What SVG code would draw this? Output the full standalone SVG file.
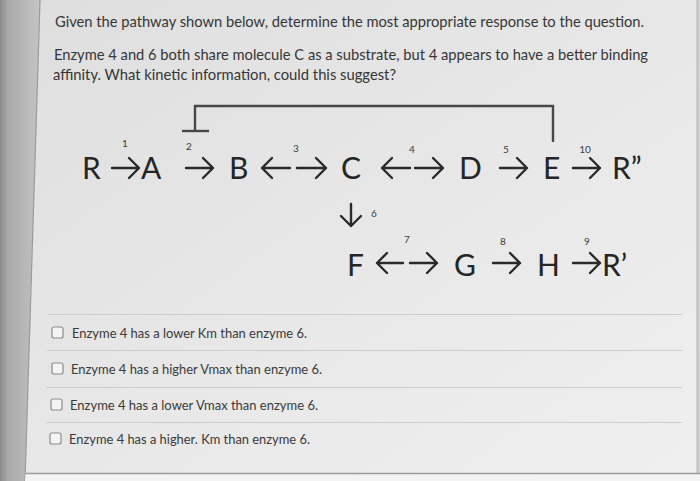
<svg xmlns="http://www.w3.org/2000/svg" width="700" height="481" viewBox="0 0 700 481">
  <defs>
    <linearGradient id="page" x1="0" y1="0" x2="1" y2="1">
      <stop offset="0" stop-color="#dedede"/>
      <stop offset="0.6" stop-color="#e9e9e9"/>
      <stop offset="1" stop-color="#efefef"/>
    </linearGradient>
    <linearGradient id="edge" x1="0" y1="0" x2="1" y2="0">
      <stop offset="0" stop-color="#8a8a8a"/>
      <stop offset="0.2" stop-color="#a9a9a9"/>
      <stop offset="1" stop-color="#c4c4c4"/>
    </linearGradient>
  </defs>
  <style>
    .q { font-family: Lato, "Liberation Sans", sans-serif; font-size: 15px; fill: #363636; }
    .opt { font-family: Lato, "Liberation Sans", sans-serif; font-size: 14px; fill: #3a3a3a; }
    .big { font-family: Lato, "Liberation Sans", sans-serif; font-size: 30px; fill: #252525; }
    .num { font-family: Lato, "Liberation Sans", sans-serif; font-size: 10px; fill: #3a3a3a; }
    .arr { fill: none; stroke: #2a2a2a; stroke-width: 2.4; stroke-linecap: round; stroke-linejoin: round; }
    .br { fill: none; stroke: #474747; stroke-width: 2.4; }
    .sep { stroke: #cdcdcd; stroke-width: 1; }
    .cb { fill: #f4f4f4; stroke: #8c8c8c; stroke-width: 1.2; }
  </style>

  <!-- background -->
  <rect x="0" y="0" width="700" height="481" fill="url(#page)"/>
  <polygon points="0,0 40,0 25,481 0,481" fill="url(#edge)"/>
  <line x1="40" y1="0" x2="25" y2="481" stroke="#9a9a9a" stroke-width="1.2"/>
  <rect x="697" y="0" width="3" height="481" fill="#cfcfcf"/>
  <line x1="697" y1="0" x2="697" y2="481" stroke="#b5b5b5" stroke-width="1"/>
  <polygon points="25.5,474 700,474 700,481 25,481" fill="#f3f3f3"/>
  <line x1="26" y1="473.5" x2="700" y2="473.5" stroke="#9c9c9c" stroke-width="1.4"/>

  <!-- question -->
  <g id="question">
    <text class="q" x="55" y="27" textLength="589" lengthAdjust="spacingAndGlyphs">Given the pathway shown below, determine the most appropriate response to the question.</text>
    <text class="q" x="54" y="60" textLength="594" lengthAdjust="spacingAndGlyphs">Enzyme 4 and 6 both share molecule C as a substrate, but 4 appears to have a better binding</text>
    <text class="q" x="53" y="80" textLength="343" lengthAdjust="spacingAndGlyphs">affinity. What kinetic information, could this suggest?</text>
  </g>

  <!-- nodes row 1 -->
  <g id="node-R"><text class="big" x="82" y="179">R</text></g>
  <g id="node-A"><text class="big" x="141" y="179">A</text></g>
  <g id="node-B"><text class="big" x="229" y="179">B</text></g>
  <g id="node-C"><text class="big" x="341" y="179">C</text></g>
  <g id="node-D"><text class="big" x="459" y="179">D</text></g>
  <g id="node-E"><text class="big" x="543" y="179">E</text></g>
  <g id="node-R2"><text class="big" x="612" y="179">R”</text></g>
  <!-- nodes row 2 -->
  <g id="node-F"><text class="big" x="347" y="276">F</text></g>
  <g id="node-G"><text class="big" x="454" y="276">G</text></g>
  <g id="node-H"><text class="big" x="537" y="276">H</text></g>
  <g id="node-R1"><text class="big" x="602" y="276">R’</text></g>

  <!-- connectors -->
  <g id="connectors">
    <!-- 1: R -> A -->
    <path class="arr" d="M112,168 H139 M129,158 L139,168 L129,178"/>
    <!-- 2: A -> B -->
    <path class="arr" d="M186,168 H213 M203,158 L213,168 L203,178"/>
    <!-- 3: B <-> C -->
    <path class="arr" d="M262,168 H290 M272,158 L262,168 L272,178"/>
    <path class="arr" d="M297,168 H326 M316,158 L326,168 L316,178"/>
    <!-- 4: C <-> D -->
    <path class="arr" d="M382,168 H410 M392,158 L382,168 L392,178"/>
    <path class="arr" d="M415,168 H443 M433,158 L443,168 L433,178"/>
    <!-- 5: D -> E -->
    <path class="arr" d="M500,168 H527 M517,158 L527,168 L517,178"/>
    <!-- 10: E -> R" -->
    <path class="arr" d="M573,168 H600 M590,158 L600,168 L590,178"/>
    <!-- 6: C -> F -->
    <path class="arr" d="M351,204 V226 M341,216 L351,226 L361,216"/>
    <!-- 7: F <-> G -->
    <path class="arr" d="M377,263 H403 M387,253 L377,263 L387,273"/>
    <path class="arr" d="M410,263 H437 M427,253 L437,263 L427,273"/>
    <!-- 8: G -> H -->
    <path class="arr" d="M493,263 H520 M510,253 L520,263 L510,273"/>
    <!-- 9: H -> R' -->
    <path class="arr" d="M573,263 H600 M590,253 L600,263 L590,273"/>
    <!-- inhibition bracket from E to step 2 -->
    <path class="br" d="M553,142 V106 H195 V131"/>
    <line class="br" x1="182" y1="131" x2="209" y2="131"/>
  </g>

  <!-- enzyme numbers -->
  <g id="labels">
    <text class="num" x="125" y="147" text-anchor="middle">1</text>
    <text class="num" x="189" y="150" text-anchor="middle">2</text>
    <text class="num" x="296" y="152" text-anchor="middle">3</text>
    <text class="num" x="412" y="153" text-anchor="middle">4</text>
    <text class="num" x="506" y="153" text-anchor="middle">5</text>
    <text class="num" x="585" y="153" text-anchor="middle">10</text>
    <text class="num" x="374" y="217" text-anchor="middle">6</text>
    <text class="num" x="407" y="243" text-anchor="middle">7</text>
    <text class="num" x="503" y="245" text-anchor="middle">8</text>
    <text class="num" x="587" y="245" text-anchor="middle">9</text>
  </g>

  <!-- options -->
  <g id="options">
    <line class="sep" x1="47" y1="314.5" x2="682" y2="314.5"/>
    <line class="sep" x1="47" y1="350.5" x2="682" y2="350.5"/>
    <line class="sep" x1="46" y1="387.5" x2="682" y2="387.5"/>
    <line class="sep" x1="46" y1="422.5" x2="682" y2="422.5"/>
    <g id="option-1">
      <rect class="cb" x="52" y="327" width="11" height="11" rx="2"/>
      <text class="opt" x="72" y="338" textLength="235" lengthAdjust="spacingAndGlyphs">Enzyme 4 has a lower Km than enzyme 6.</text>
    </g>
    <g id="option-2">
      <rect class="cb" x="52" y="363" width="11" height="11" rx="2"/>
      <text class="opt" x="71" y="374" textLength="251" lengthAdjust="spacingAndGlyphs">Enzyme 4 has a higher Vmax than enzyme 6.</text>
    </g>
    <g id="option-3">
      <rect class="cb" x="51" y="399" width="11" height="11" rx="2"/>
      <text class="opt" x="70" y="410" textLength="248" lengthAdjust="spacingAndGlyphs">Enzyme 4 has a lower Vmax than enzyme 6.</text>
    </g>
    <g id="option-4">
      <rect class="cb" x="50" y="433" width="11" height="11" rx="2"/>
      <text class="opt" x="69" y="444" textLength="241" lengthAdjust="spacingAndGlyphs">Enzyme 4 has a higher. Km than enzyme 6.</text>
    </g>
  </g>
</svg>
